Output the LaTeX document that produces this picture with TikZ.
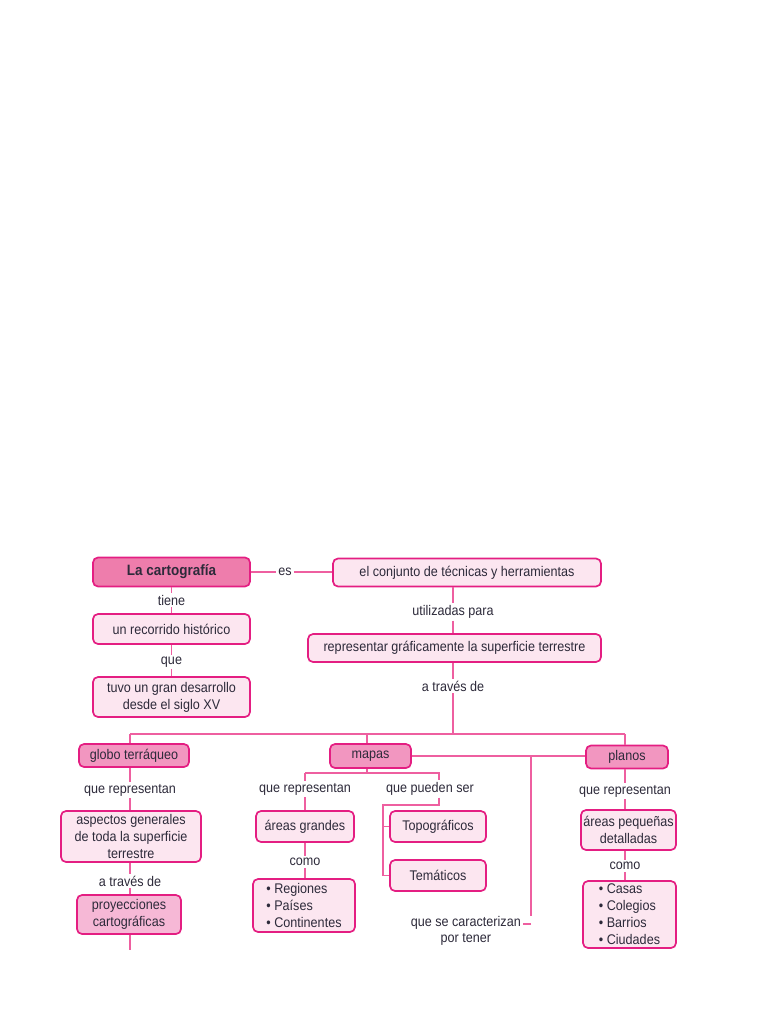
\documentclass[tikz,border=0pt]{standalone}
\usepackage{fontspec}
\setmainfont{Liberation Sans}[FakeStretch=0.9]
\usepackage{xcolor}
\usetikzlibrary{positioning,calc}
\definecolor{cmborder}{RGB}{228,30,130}
\definecolor{cmline}{RGB}{238,95,160}
\definecolor{cmlight}{RGB}{252,230,240}
\definecolor{cmdark}{RGB}{238,125,172}
\definecolor{cmmid}{RGB}{242,150,192}
\definecolor{cmsoft}{RGB}{246,184,214}
\definecolor{cmtext}{RGB}{45,42,58}
\tikzset{
  concept/.style={draw=cmborder, line width=1.7pt, rounded corners=5pt, fill=cmlight,
    text=cmtext, align=center, inner sep=0pt, font=\fontsize{14}{17}\selectfont},
  keybox/.style={concept, fill=cmmid},
  linklabel/.style={fill=white, text=cmtext, inner sep=2pt, align=center,
    font=\fontsize{14}{16}\selectfont},
  link/.style={draw=cmline, line width=1.3pt}
}
\begin{document}
\begin{tikzpicture}[x=1pt,y=-1pt]
  \useasboundingbox (0,0) rectangle (768,1024);
  % top: definition of the concept
  \node[concept, fill=cmdark, minimum width=157, minimum height=29,
        font=\fontsize{15}{17}\selectfont\bfseries] (carto) at (171.5,572) {La cartografía};
  \node[concept, minimum width=268, minimum height=28] (conjunto) at (467,572.5) {el conjunto de técnicas y herramientas};
  \node[concept, minimum width=293, minimum height=28] (repres) at (454.5,648) {representar gráficamente la superficie terrestre};
  \node[linklabel] (es) at (285,572) {es};
  \node[linklabel] (utiliz) at (453,612) {utilizadas para};
  \node[linklabel] (traves) at (453,686) {a través de};
  % left column: history
  \node[concept, minimum width=157, minimum height=30] (recorrido) at (171.5,629) {un recorrido histórico};
  \node[concept, minimum width=157, minimum height=40] (tuvo) at (171.5,697) {tuvo un gran desarrollo\\desde el siglo XV};
  \node[linklabel] (tiene) at (171.5,600) {tiene};
  \node[linklabel] (que) at (171.5,662) {que};
  % the three kinds of representation
  \coordinate (barL) at (130,734);
  \coordinate (barR) at (625,734);
  \node[keybox, minimum width=110, minimum height=23] (globo) at (134,755.5) {globo terráqueo};
  \node[keybox, minimum width=81, minimum height=24] (mapas) at (370.5,756) {mapas};
  \node[keybox, minimum width=82, minimum height=23] (planos) at (627,757) {planos};
  % globo terraqueo branch
  \node[linklabel] (globorep) at (130,790) {que representan};
  \node[concept, minimum width=140, minimum height=51] (aspectos) at (131,836.5) {aspectos generales\\de toda la superficie\\terrestre};
  \node[linklabel] (globotrav) at (130,881) {a través de};
  \node[concept, fill=cmsoft, minimum width=104, minimum height=39] (proyec) at (129,914.5) {proyecciones\\cartográficas};
  \coordinate (proyend) at (130,950);
  % mapas branch
  \coordinate (mapsplit) at (367,773);
  \coordinate (tipX) at (439,773);
  \coordinate (tipsplit) at (383,805);
  \node[linklabel] (maparep) at (305,789) {que representan};
  \node[linklabel] (puedeser) at (430,789) {que pueden ser};
  \node[concept, minimum width=98, minimum height=31] (grandes) at (305,826.5) {áreas grandes};
  \node[linklabel] (mapacomo) at (305,862) {como};
  \node[concept, minimum width=102, minimum height=53, align=left] (regiones) at (304,905.5) {• Regiones\\• Países\\• Continentes};
  \node[concept, minimum width=96, minimum height=31] (topo) at (438,826.5) {Topográficos};
  \node[concept, minimum width=96, minimum height=31] (tema) at (438,875.5) {Temáticos};
  \coordinate (caracX) at (531,756);
  \node[linklabel, anchor=north east, inner sep=0pt] (carac) at (521,916) {que se caracterizan\\por tener};
  % planos branch
  \node[linklabel] (planorep) at (625,791) {que representan};
  \node[concept, minimum width=95, minimum height=40] (pequenas) at (628.5,830) {áreas pequeñas\\detalladas};
  \node[linklabel] (planocomo) at (625,866) {como};
  \node[concept, minimum width=93, minimum height=67, align=left] (casas) at (629.5,914.5) {• Casas\\• Colegios\\• Barrios\\• Ciudades};
  % connectors
  \draw[link] (carto.east |- es) -- (es) -- (conjunto.west |- es);
  \draw[link] (carto) -- (tiene) -- (recorrido);
  \draw[link] (recorrido) -- (que) -- (tuvo);
  \draw[link] (utiliz |- conjunto.south) -- (utiliz) -- (utiliz |- repres.north);
  \draw[link] (traves |- repres.south) -- (traves) -- (traves |- barL);
  \draw[link] (barL) -- (barR);
  \draw[link] (barL) -- (barL |- globo.north);
  \draw[link] (mapsplit |- barL) -- (mapsplit |- mapas.north);
  \draw[link] (barR) -- (barR |- planos.north);
  \draw[link] (globorep |- globo.south) -- (globorep) -- (globorep |- aspectos.north);
  \draw[link] (globotrav |- aspectos.south) -- (globotrav) -- (globotrav |- proyec.north);
  \draw[link] (proyend |- proyec.south) -- (proyend);
  \draw[link] (mapsplit |- mapas.south) -- (mapsplit);
  \draw[link] (mapsplit -| maparep) -- (tipX) -- (tipX |- puedeser.north);
  \draw[link] (mapsplit -| maparep) -- (maparep);
  \draw[link] (maparep) -- (grandes);
  \draw[link] (grandes) -- (mapacomo) -- (regiones.north -| mapacomo);
  \draw[link] (tipX |- puedeser.south) -- (tipX |- tipsplit) -- (tipsplit) -- (tipsplit |- tema.west) -- (tema.west);
  \draw[link] (tipsplit |- topo.west) -- (topo.west);
  \draw[link] (mapas.east) -- (mapas.east -| planos.west);
  \draw[link] (caracX |- mapas.east) -- (caracX |- carac.north east) ++(0,8) coordinate (caracY)
              -- ($(carac.north east)+(2,8)$);
  \draw[link] (planorep |- planos.south) -- (planorep) -- (planorep |- pequenas.north);
  \draw[link] (planocomo |- pequenas.south) -- (planocomo) -- (planocomo |- casas.north);
\end{tikzpicture}
\end{document}
